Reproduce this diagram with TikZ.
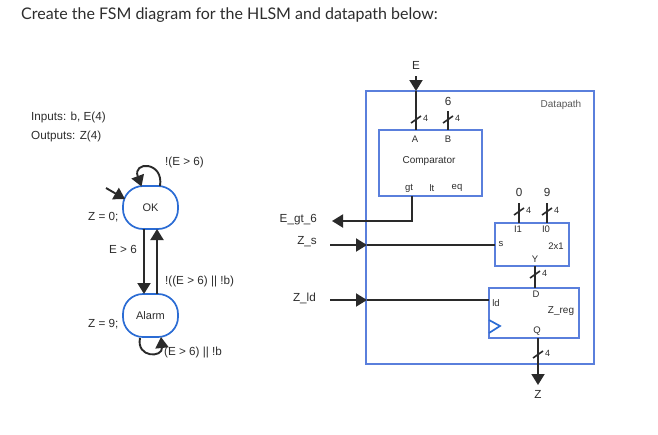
\documentclass[tikz,border=0pt]{standalone}
\usepackage{fontspec}
\setmainfont{Liberation Sans}
\newfontfamily\titlefont{Lato}
\usetikzlibrary{arrows.meta}
\definecolor{ink}{HTML}{2A2A2A}
\definecolor{txt}{HTML}{2D2D2D}
\definecolor{fsmblue}{HTML}{2B6CD4}
\definecolor{dpblue}{HTML}{5A7FDC}
\newcommand{\busmark}[3]{%
  \draw[wire,line width=1.6pt] (#1-5,#2+4) -- (#1+5,#2-3);
  \node[lblS,anchor=west] at (#1+7,#2-1) {#3};}
\tikzset{
  wire/.style={draw=ink,line width=1.9pt},
  arr/.style={wire,-{Triangle[length=11pt,width=13pt,fill=ink]}},
  state/.style={draw=fsmblue,line width=1.7pt,rounded corners=20pt,minimum width=55pt,minimum height=43pt,inner sep=0pt,font=\fontsize{11}{13}\selectfont,text=txt},
  block/.style={draw=dpblue,line width=1.9pt,inner sep=0pt},
  lbl/.style={font=\fontsize{11.7}{14}\selectfont,text=txt,inner sep=0pt},
  lblM/.style={font=\fontsize{10}{12}\selectfont,text=txt,inner sep=0pt},
  lblC/.style={font=\fontsize{9.5}{11}\selectfont,text=txt,inner sep=0pt},
  lblS/.style={font=\fontsize{9}{11}\selectfont,text=txt,inner sep=0pt},
}
\begin{document}
\begin{tikzpicture}[x=1pt,y=-1pt]
\useasboundingbox (0,0) rectangle (658,434);
\fill[white] (0,0) rectangle (658,434);
\node[anchor=west,inner sep=0pt,text=txt,font=\titlefont\fontsize{16}{20}\selectfont] (title) at (21,15) {Create the FSM diagram for the HLSM and datapath below:};
\node[lbl,anchor=west] (inp) at (31,117) {Inputs: b, E(4)};
\node[lbl,anchor=west] (outp) at (31,136) {Outputs: Z(4)};

% FSM
\node[state] (ok) at (150.5,207.5) {OK};
\node[state] (alarm) at (150.5,315.5) {Alarm};
\coordinate (init) at (106,188);
\coordinate (okin) at (125,199);
\coordinate (okA) at (144,229); \coordinate (alA) at (144,294);
\coordinate (okB) at (157,229); \coordinate (alB) at (157,294);
\coordinate (okL1) at (160,186); \coordinate (okL2) at (141.5,186.5);
\coordinate (alL1) at (140,338); \coordinate (alL2) at (161,337);
\draw[arr] (init) -- (okin);
\draw[arr] (okA) -- (alA);
\draw[arr] (alB) -- (okB);
\draw[arr] (okL1) .. controls (164,161) and (132,161) .. (okL2);
\draw[arr] (alL1) .. controls (136,358) and (163,358) .. (alL2);
\node[lbl,anchor=west] (l1) at (165,162) {!(E > 6)};
\node[lbl,anchor=west] (l2) at (88,217) {Z = 0;};
\node[lbl,anchor=west] (l3) at (109,249) {E > 6};
\node[lbl,anchor=west] (l4) at (165,281) {!((E > 6) || !b)};
\node[lbl,anchor=west] (l5) at (88,324) {Z = 9;};
\node[lbl,anchor=west] (l6) at (164,352) {(E > 6) || !b};

% Datapath
\node[block,minimum width=228pt,minimum height=273pt] (dp) at (480,227.5) {};
\node[lblM,text=black!65] (dpl) at (561,105) {Datapath};
\node[block,minimum width=103pt,minimum height=66pt] (cmp) at (430.5,163) {};
\node[block,minimum width=74pt,minimum height=43pt] (mux) at (532,244.5) {};
\node[block,minimum width=90pt,minimum height=50pt] (reg) at (534,313) {};
\draw[draw=fsmblue,line width=1.7pt] (489,320) -- (500,326) -- (489,333);

\node[lbl] (E) at (416,65) {E};
\node[lbl] (six) at (448,101) {6};
\node[lbl] (zero) at (519,192) {0};
\node[lbl] (nine) at (547,192) {9};
\node[lbl] (Z) at (538,394) {Z};
\node[lbl,anchor=east] (egt) at (317,220) {E\_gt\_6};
\node[lbl,anchor=east] (zs) at (317,242) {Z\_s};
\node[lbl,anchor=east] (zld) at (316,298) {Z\_ld};

\node[lblC] (pA) at (415,139) {A};
\node[lblC] (pB) at (448,139) {B};
\node[lblM] (cmpn) at (429,161) {Comparator};
\node[lblC] (pgt) at (409,188) {gt};
\node[lblC] (plt) at (432,188) {lt};
\node[lblC] (peq) at (457,188) {eq};
\node[lblC] (pI1) at (518,229) {I1};
\node[lblC] (pI0) at (546,229) {I0};
\node[lblC] (ps) at (501,244) {s};
\node[lblC] (muxn) at (556,246) {2x1};
\node[lblC] (pY) at (535,259) {Y};
\node[lblC] (pD) at (536,294) {D};
\node[lblC] (pld) at (496,303) {ld};
\node[lblM] (regn) at (561,311) {Z\_reg};
\node[lblC] (pQ) at (537,331) {Q};

\coordinate (eS) at (416,76); \coordinate (eT) at (416,91); \coordinate (cA) at (416,130);
\coordinate (sixS) at (448,111); \coordinate (cB) at (448,130);
\coordinate (zS) at (519,203); \coordinate (mI1) at (519,223);
\coordinate (nS) at (547,203); \coordinate (mI0) at (547,223);
\coordinate (mY) at (535,266); \coordinate (rD) at (535,288);
\coordinate (rQ) at (538,338); \coordinate (zT) at (538,385);
\coordinate (gtS) at (412,196); \coordinate (gtC) at (412,221); \coordinate (gtE) at (332,221);
\coordinate (zsS) at (330,245); \coordinate (zsT) at (367,245); \coordinate (zsE) at (495,245);
\coordinate (zlS) at (330,300); \coordinate (zlT) at (367,300); \coordinate (zlE) at (489,300);

\draw[arr] (eS) -- (eT);
\draw[wire] (eT) -- (cA);
\draw[wire] (sixS) -- (cB);
\draw[wire] (zS) -- (mI1);
\draw[wire] (nS) -- (mI0);
\draw[wire] (mY) -- (rD);
\draw[arr] (rQ) -- (zT);
\draw[arr] (gtS) -- (gtC) -- (gtE);
\draw[arr] (zsS) -- (zsT);
\draw[wire] (zsT) -- (zsE);
\draw[arr] (zlS) -- (zlT);
\draw[wire] (zlT) -- (zlE);

\busmark{416}{119}{4}
\busmark{448}{119}{4}
\busmark{519}{211}{4}
\busmark{547}{211}{4}
\busmark{535}{274}{4}
\busmark{538}{354}{4}
\end{tikzpicture}
\end{document}
